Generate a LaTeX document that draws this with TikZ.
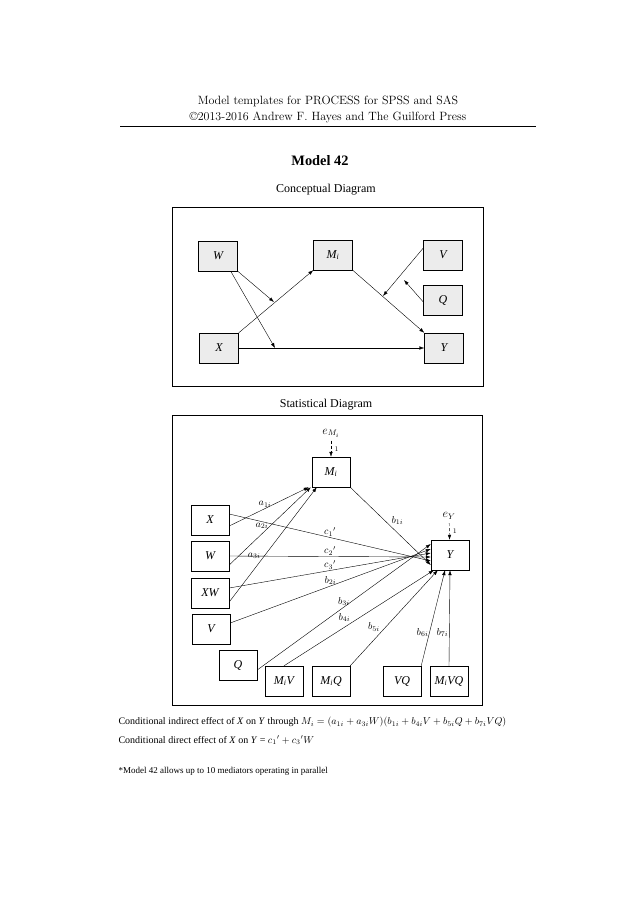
\documentclass[tikz,border=0pt]{standalone}
\usepackage{fontspec}
\newfontfamily\tms{Liberation Serif}
\usetikzlibrary{arrows.meta}
\tikzstyle{cvar}=[rectangle, draw, fill=gray!15, minimum width=39pt, minimum height=30pt, font=\tms\itshape\large, inner sep=0pt]
\tikzstyle{svar}=[rectangle, draw, fill=white, minimum width=38pt, minimum height=30pt, font=\tms\itshape\large, inner sep=0pt]
\tikzstyle{path}=[draw, -{Latex[length=5pt,width=3.5pt]}]
\tikzstyle{coef}=[font=\normalsize, inner sep=1pt]

\begin{document}
\begin{tikzpicture}[x=1pt, y=-1pt, thin]
      %
      \path[use as bounding box] (0,0) rectangle (638,902);
      %
      % Header
      %
      \node[font=\large] (h1) at (328,101) {Model templates for PROCESS for SPSS and SAS};
      \node[font=\large] (h2) at (328,117) {\textcopyright2013-2016 Andrew F. Hayes and The Guilford Press};
      \draw (120,126) -- (536,126);
      \node[font=\tms\bfseries\Large] (title) at (320,161) {Model 42};
      \node[font=\tms\large] (cd) at (326,190) {Conceptual Diagram};
      %
      % Conceptual diagram
      %
      \draw (172,207) rectangle (483,386);
      \node[cvar] (cW) at (218,256) {W};
      \node[cvar] (cM) at (333,255) {M\textsubscript{\textit{i}}};
      \node[cvar] (cV) at (443,255) {V};
      \node[cvar] (cQ) at (443,300) {Q};
      \node[cvar] (cX) at (219,348) {X};
      \node[cvar] (cY) at (444,348) {Y};
      \coordinate (xm) at (274,302);
      \coordinate (xy) at (275,348);
      \coordinate (my) at (383,296);
      \coordinate (vm) at (404,280);
      \path[path] (cX.north east) -- (cM.south west);
      \path[path] (cX.east) -- (cY.west);
      \path[path] (cM.south east) -- (cY.north west);
      \path[path] (cW.south east) -- (xm);
      \path[path] ([xshift=-7pt]cW.south east) -- (xy);
      \path[path] ([yshift=7pt]cV.west) -- (my);
      \path[path] ([yshift=-2pt]cQ.west) -- (vm);
      %
      % Statistical diagram
      %
      \node[font=\tms\large] (sd) at (326,405) {Statistical Diagram};
      \draw (172,415) rectangle (482,705);
      \node[svar] (M) at (331,472) {M\textsubscript{\textit{i}}};
      \node[svar] (Y) at (450,555) {Y};
      \node[svar] (X) at (210,520) {X};
      \node[svar] (W) at (210,556) {W};
      \node[svar] (XW) at (210,593) {XW};
      \node[svar] (V) at (211,629) {V};
      \node[svar] (Q) at (238,665) {Q};
      \node[svar] (MV) at (284,681) {M\textsubscript{\textit{i}}V};
      \node[svar] (MQ) at (331,681) {M\textsubscript{\textit{i}}Q};
      \node[svar] (VQ) at (402,681) {VQ};
      \node[svar] (MVQ) at (449,681) {M\textsubscript{\textit{i}}VQ};
      \node[font=\large] (eM) at (331,433) {$e_{M_i}$};
      \node[font=\large] (eY) at (449,516) {$e_Y$};
      \path[path, densely dashed] (eM) -- node[right, font=\scriptsize] {1} (M);
      \path[path, densely dashed] (eY) -- node[right, font=\scriptsize] {1} (Y);
      %
      % X, W, XW --> Mi
      %
      \path[path] ([yshift=-6pt]X.east) -- node[coef, above, pos=0.45] {$a_{1i}$} ([xshift=-3pt]M.south west);
      \path[path] ([yshift=-9pt]W.east) -- node[coef, above, pos=0.45, xshift=-4pt] {$a_{2i}$} ([xshift=-1pt]M.south west);
      \path[path] ([yshift=-9pt]XW.east) -- node[coef, pos=0.4, xshift=-10pt] {$a_{3i}$} ([xshift=5pt]M.south west);
      \path[path] (M.south east) -- node[coef, above right, pos=0.5] {$b_{1i}$} ([yshift=-10pt]Y.west);
      %
      % predictors --> Y
      %
      \path[path] ([yshift=6pt]X.east) -- node[coef, above, pos=0.5] {$c_1{}'$} ([yshift=-6pt]Y.west);
      \path[path] (W.east) -- node[coef, above, pos=0.5] {$c_2{}'$} ([yshift=-2pt]Y.west);
      \path[path] ([yshift=5pt]XW.east) -- node[coef, above, pos=0.5] {$c_3{}'$} ([yshift=2pt]Y.west);
      \path[path] ([yshift=6pt]V.east) -- node[coef, above, pos=0.5] {$b_{2i}$} ([yshift=6pt]Y.west);
      \path[path] ([yshift=-5pt]Q.east) -- node[coef, above, pos=0.5] {$b_{3i}$} ([yshift=11pt]Y.west);
      \path[path] (MV.north) -- node[coef, above left, pos=0.45] {$b_{4i}$} ([xshift=3pt]Y.south west);
      \path[path] (MQ.north east) -- node[coef, above left, pos=0.35] {$b_{5i}$} ([xshift=7pt]Y.south west);
      \path[path] (VQ.north east) -- node[coef, left, pos=0.35] {$b_{6i}$} ([xshift=-5pt]Y.south);
      \path[path] (MVQ.north) -- node[coef, left, pos=0.35] {$b_{7i}$} ([xshift=0pt]Y.south);
      %
      % Footnotes
      %
      \node[font=\tms, anchor=west] (f1) at (115,722) {Conditional indirect effect of \textit{X} on \textit{Y} through $M_i=(a_{1i}+a_{3i}W)(b_{1i}+b_{4i}V+b_{5i}Q+b_{7i}VQ)$};
      \node[font=\tms, anchor=west] (f2) at (115,740) {Conditional direct effect of \textit{X} on \textit{Y} = $c_1{}'+c_3{}'W$};
      \node[font=\tms\small, anchor=west] (f3) at (115,771) {*Model 42 allows up to 10 mediators operating in parallel};
      %
    \end{tikzpicture}
\end{document}
